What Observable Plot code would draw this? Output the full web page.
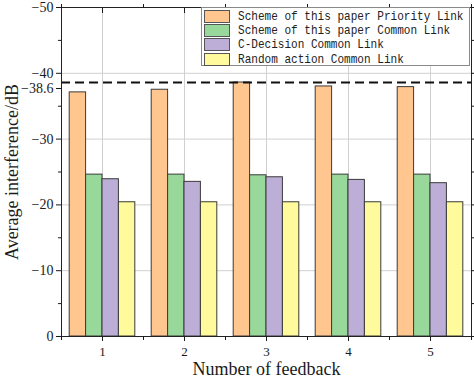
<!DOCTYPE html>
<html><head><meta charset="utf-8">
<script src="https://cdn.jsdelivr.net/npm/d3@7"></script>
<script src="https://cdn.jsdelivr.net/npm/@observablehq/plot@0.6"></script>
<style>
body{margin:0;background:#fff;}
#wrap{position:relative;width:474px;height:380px;}
#legend{position:absolute;left:201px;top:7px;width:269px;height:59px;background:#fff;border:1px solid #8a8a8a;box-sizing:border-box;font-family:"Liberation Mono",monospace;font-size:13px;padding-top:1px;}
.row{display:flex;align-items:center;height:14.3px;}
.sw{width:26px;height:13px;border:1px solid #555;box-sizing:border-box;margin-left:2px;margin-right:8px;flex:none;}
.lab{transform:scaleX(0.85);transform-origin:left center;white-space:nowrap;color:#222;}
</style></head>
<body>
<div id="wrap"><div id="chart"></div><div id="legend"></div></div>
<script>
const feedback = [1, 2, 3, 4, 5];
const seriesNames = [
  "Scheme of this paper Priority Link",
  "Scheme of this paper Common Link",
  "C-Decision Common Link",
  "Random action Common Link"
];
const priorityLink = [-37.1, -37.5, -38.6, -38.0, -37.9];
const schemeCommon = [-24.6, -24.6, -24.5, -24.6, -24.6];
const cDecision = [-23.9, -23.5, -24.2, -23.8, -23.3];
const randomAction = [-20.4, -20.4, -20.4, -20.4, -20.4];
const seriesColors = ["#FFC690", "#99D89B", "#BDAED7", "#FFFB9C"];
const yTickValues = [-50, -40, -30, -20, -10, 0];
const yTickLabels = ["\u221250", "\u221240", "\u221230", "\u221220", "\u221210", "0"];
const threshold = -38.6;
const thresholdLabel = "\u221238.6";
const xTitle = "Number of feedback";
const yTitle = "Average interference/dB";

const seriesValues = [priorityLink, schemeCommon, cDecision, randomAction];
const barW = 0.2;
const rows = [];
seriesValues.forEach((vals, s) => {
  vals.forEach((v, i) => {
    const c = feedback[i];
    rows.push({series: seriesNames[s], x1: c - 0.4 + s * barW, x2: c - 0.4 + (s + 1) * barW, value: v});
  });
});

const minorX = [0.5, 1.5, 2.5, 3.5, 4.5, 5.5];
const minorY = [-45, -35, -25, -15, -5];

const chart = Plot.plot({
  width: 474,
  height: 380,
  marginLeft: 61,
  marginRight: 3,
  marginTop: 7,
  marginBottom: 44,
  style: {fontFamily: "Liberation Serif", fontSize: "14px", color: "#1a1a1a", background: "#fff"},
  x: {domain: [0.5, 5.5]},
  y: {domain: [0, -50]},
  color: {domain: seriesNames, range: seriesColors},
  marks: [
    Plot.gridX(feedback, {stroke: "#d0d0d0", strokeOpacity: 1}),
    Plot.gridY([-10, -20, -30, -40], {stroke: "#d0d0d0", strokeOpacity: 1}),
    Plot.rectY(rows, {x1: "x1", x2: "x2", y1: 0, y2: "value", fill: "series", stroke: "#3a3a3a", strokeWidth: 1}),
    Plot.ruleY([threshold], {stroke: "#111", strokeWidth: 2, strokeDasharray: "9,5"}),
    Plot.frame({stroke: "#222"}),
    Plot.axisX(feedback, {tickSize: 5, tickPadding: 5, fontSize: 13, label: null, tickFormat: d => String(d)}),
    Plot.axisX(minorX, {tickSize: 4, tickFormat: () => "", label: null}),
    Plot.axisX(feedback, {anchor: "top", tickSize: -5, tickFormat: () => "", label: null}),
    Plot.axisX(minorX, {anchor: "top", tickSize: 4, tickFormat: () => "", label: null}),
    Plot.axisY(yTickValues, {tickSize: 5, tickPadding: 3, fontSize: 14, tickFormat: (d, i) => yTickLabels[i], label: null}),
    Plot.axisY([threshold], {tickSize: 5, tickPadding: 3, fontSize: 14, dy: 6, tickFormat: () => thresholdLabel, label: null}),
    Plot.axisY(minorY, {tickSize: 3, tickFormat: () => "", label: null}),
    Plot.axisY([-50, -40, -30, -20, -10, 0], {anchor: "right", tickSize: 4, tickFormat: () => "", label: null}),
    Plot.axisY(minorY, {anchor: "right", tickSize: 3, tickFormat: () => "", label: null}),
    Plot.text([xTitle], {frameAnchor: "bottom", textAnchor: "middle", dy: 38, fontSize: 18, fill: "#1a1a1a"}),
    Plot.text([yTitle], {frameAnchor: "left", textAnchor: "middle", dx: -49, rotate: -90, fontSize: 18, fill: "#1a1a1a"})
  ]
});
document.getElementById("chart").appendChild(chart);

const legend = document.getElementById("legend");
seriesNames.forEach((n, i) => {
  const r = document.createElement("div");
  r.className = "row";
  const sw = document.createElement("div");
  sw.className = "sw";
  sw.style.background = seriesColors[i];
  const lab = document.createElement("div");
  lab.className = "lab";
  lab.textContent = n;
  r.appendChild(sw); r.appendChild(lab);
  legend.appendChild(r);
});
</script>
</body></html>
